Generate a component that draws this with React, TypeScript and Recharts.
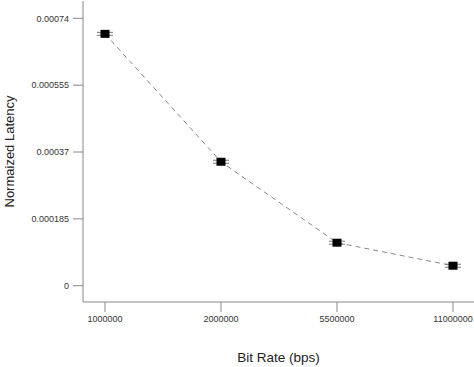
import React from 'react';
import { LineChart, Line, XAxis, YAxis } from 'recharts';

const bitRates = ['1000000', '2000000', '5500000', '11000000'];
const latency = [0.000697, 0.000343, 0.000119, 0.0000553];
const yTicks = [0, 0.000185, 0.00037, 0.000555, 0.00074];

const data = bitRates.map((r, i) => ({ rate: r, latency: latency[i] }));

const Marker = (props: any) => {
  const { cx, cy } = props;
  if (cx == null || cy == null) return null;
  return (
    <g>
      <line x1={cx - 8} x2={cx + 8} y1={cy - 1.5} y2={cy - 1.5} stroke="#777" strokeWidth={1} />
      <line x1={cx - 8} x2={cx + 8} y1={cy + 1.5} y2={cy + 1.5} stroke="#777" strokeWidth={1} />
      <rect x={cx - 4.5} y={cy - 4} width={9} height={8} fill="#000" />
    </g>
  );
};

export default function App() {
  const tickStyle = { fontSize: 9, fill: '#333', fontFamily: 'Liberation Sans, Arial, sans-serif' };
  return (
    <div style={{ position: 'absolute', left: 0, top: 0, background: '#fff' }}>
      <LineChart width={474} height={367} data={data} margin={{ top: 1, right: 0, left: 0, bottom: 0 }}>
        <XAxis
          xAxisId="top"
          dataKey="rate"
          orientation="top"
          height={0}
          tick={false}
          tickLine={false}
          axisLine={{ stroke: '#999', strokeWidth: 2 }}
          padding={{ left: 22, right: 21 }}
        />
        <XAxis
          dataKey="rate"
          height={65}
          padding={{ left: 22, right: 21 }}
          tickSize={10}
          tickMargin={4}
          axisLine={{ stroke: '#888' }}
          tickLine={{ stroke: '#888' }}
          tick={tickStyle}
          interval={0}
          label={{
            value: 'Bit Rate (bps)',
            position: 'insideBottom',
            offset: 5,
            style: { fontSize: 13.5, fill: '#222', fontFamily: 'Liberation Sans, Arial, sans-serif' },
          }}
        />
        <YAxis
          width={83}
          domain={[-0.0000451, 0.0007879]}
          allowDataOverflow
          ticks={yTicks}
          interval={0}
          tickSize={10}
          tickMargin={4}
          axisLine={{ stroke: '#888' }}
          tickLine={{ stroke: '#888' }}
          tick={tickStyle}
          tickFormatter={(v: number) => String(v)}
          label={{
            value: 'Normaized Latency',
            angle: -90,
            position: 'insideLeft',
            offset: 9,
            style: { textAnchor: 'middle', fontSize: 13, fill: '#222', fontFamily: 'Liberation Sans, Arial, sans-serif' },
          }}
        />
        <Line
          dataKey="latency"
          stroke="#888"
          strokeWidth={1}
          strokeDasharray="5 4"
          dot={<Marker />}
          activeDot={false}
          isAnimationActive={false}
        />
      </LineChart>
    </div>
  );
}
